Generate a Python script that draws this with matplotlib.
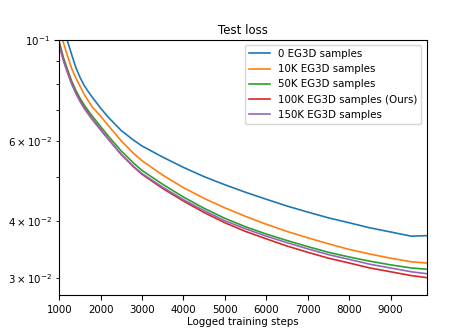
import matplotlib
matplotlib.use("Agg")
import matplotlib.pyplot as plt

plt.rcParams['font.size'] = 7.4

steps = [1000, 1100, 1200, 1300, 1400, 1500, 1600, 1700, 1800, 2000, 2200, 2500, 2800, 3000,
         3500, 4000, 4500, 5000, 5500, 6000, 6500, 7000, 7500, 8000, 8500, 9000, 9500, 9870]

loss_0k = [0.114, 0.1065, 0.0993, 0.0928, 0.0870, 0.0828, 0.0795, 0.0770, 0.0748, 0.0708, 0.0674,
           0.0632, 0.0602, 0.0585, 0.0553, 0.0525, 0.0501, 0.0481, 0.0463, 0.0447, 0.0432,
           0.0419, 0.0407, 0.0397, 0.0387, 0.0379, 0.0371, 0.0372]
loss_10k = [0.1058, 0.0986, 0.0922, 0.0865, 0.0825, 0.0792, 0.0760, 0.0735, 0.0712, 0.0680, 0.0646,
            0.0600, 0.0563, 0.0543, 0.0505, 0.0474, 0.0449, 0.0428, 0.0410, 0.0394, 0.0380,
            0.0368, 0.0357, 0.0347, 0.0339, 0.0332, 0.0326, 0.0324]
loss_50k = [0.099, 0.0915, 0.0860, 0.0812, 0.0775, 0.0745, 0.0720, 0.0699, 0.0680, 0.0645, 0.0613,
            0.0570, 0.0536, 0.0517, 0.0482, 0.0452, 0.0427, 0.0406, 0.0389, 0.0375, 0.0363,
            0.0352, 0.0342, 0.0334, 0.0327, 0.0321, 0.0316, 0.0314]
loss_100k = [0.098, 0.0905, 0.0850, 0.0803, 0.0766, 0.0736, 0.0711, 0.0690, 0.0670, 0.0636, 0.0604,
             0.0560, 0.0526, 0.0507, 0.0472, 0.0443, 0.0418, 0.0397, 0.0380, 0.0366, 0.0353,
             0.0342, 0.0332, 0.0324, 0.0316, 0.0310, 0.0304, 0.0301]
loss_150k = [0.097, 0.0900, 0.0846, 0.0800, 0.0763, 0.0733, 0.0708, 0.0687, 0.0668, 0.0634, 0.0603,
             0.0560, 0.0527, 0.0509, 0.0475, 0.0446, 0.0422, 0.0401, 0.0385, 0.0371, 0.0359,
             0.0348, 0.0338, 0.0330, 0.0322, 0.0316, 0.0310, 0.0307]

labels = ["0 EG3D samples", "10K EG3D samples", "50K EG3D samples",
          "100K EG3D samples (Ours)", "150K EG3D samples"]
colors = ["#1f77b4", "#ff7f0e", "#2ca02c", "#d62728", "#9467bd"]
xticks = [1000, 2000, 3000, 4000, 5000, 6000, 7000, 8000, 9000]

fig, ax = plt.subplots(figsize=(4.74, 3.32), dpi=100)
fig.subplots_adjust(left=0.125, right=0.9, top=0.88, bottom=0.11)
for series, lab, col in zip([loss_0k, loss_10k, loss_50k, loss_100k, loss_150k], labels, colors):
    ax.plot(steps, series, color=col, label=lab, linewidth=1.2)

ax.set_yscale('log')
ax.set_ylim(0.0275, 0.1)
ax.set_xlim(1000, 9870)
ax.set_xticks(xticks)
ax.set_xlabel("Logged training steps", labelpad=1)
ax.set_title("Test loss", pad=4, fontsize=8.5)
ax.legend(loc='upper right')
fig.savefig("out.png", dpi=100)
